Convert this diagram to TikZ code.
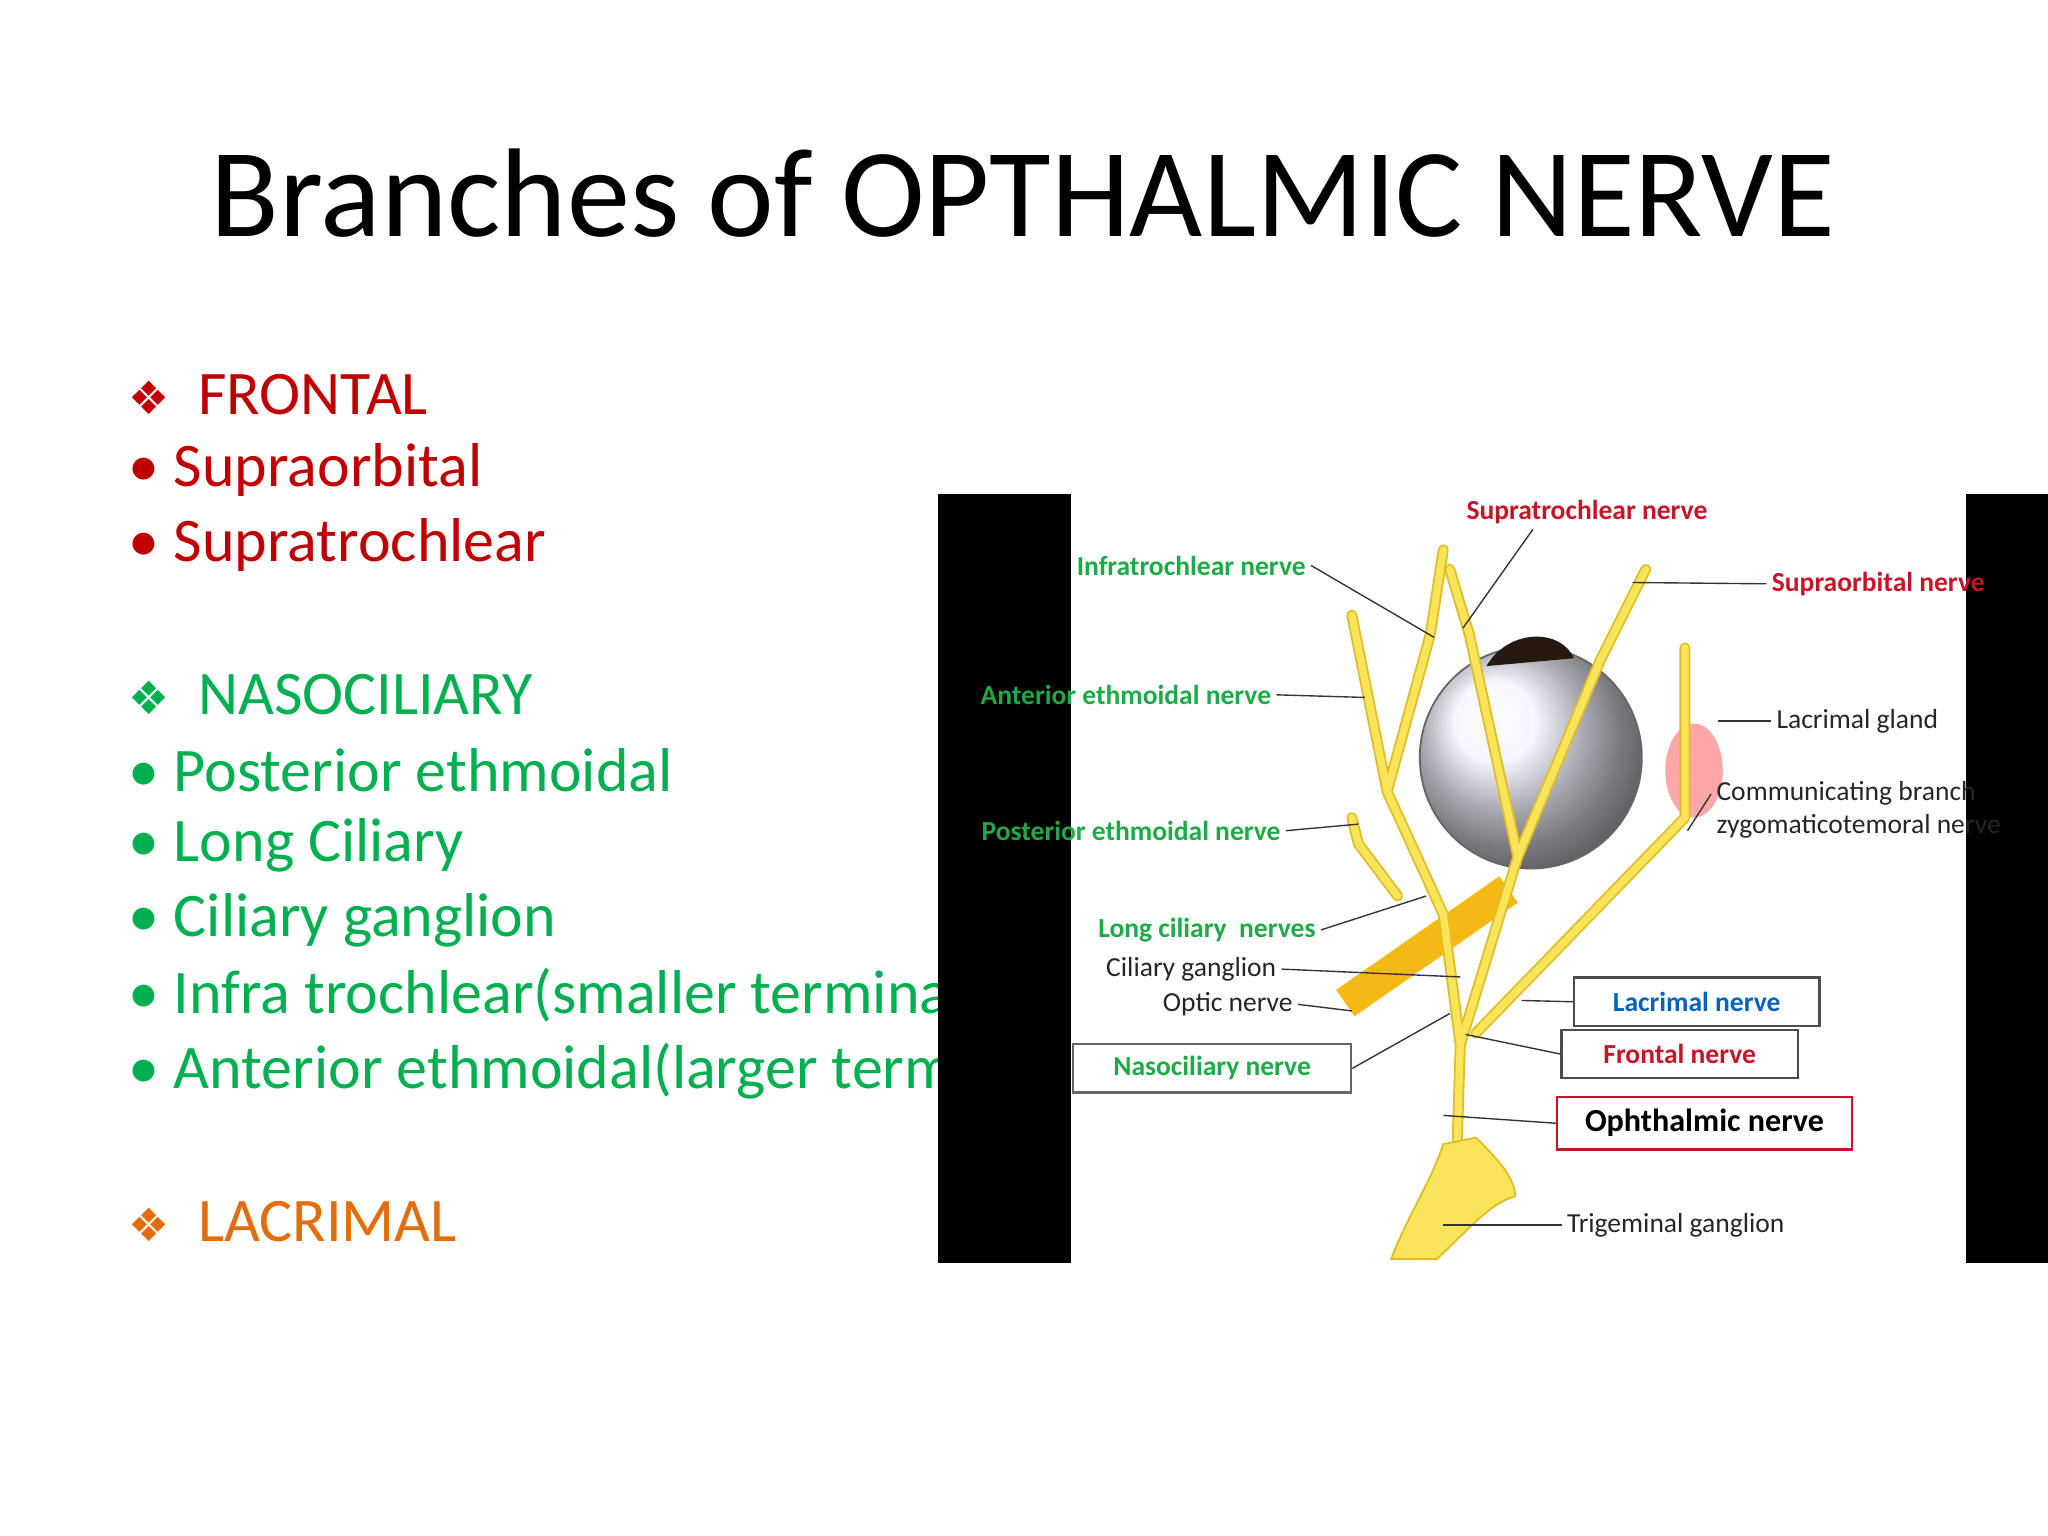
\documentclass[tikz,border=0pt]{standalone}
\usepackage{fontspec}
\setmainfont{Carlito}
\newfontfamily\symfont{DejaVu Sans}
\usetikzlibrary{positioning}
\definecolor{redtxt}{RGB}{192,0,0}
\definecolor{greentxt}{RGB}{0,176,80}
\definecolor{orangetxt}{RGB}{228,108,10}
\definecolor{nerve}{RGB}{250,228,90}
\definecolor{nerveedge}{RGB}{225,190,40}
\definecolor{optic}{RGB}{245,185,20}
\definecolor{labgreen}{RGB}{30,170,70}
\definecolor{labred}{RGB}{200,20,40}
\definecolor{labblue}{RGB}{0,100,190}
\tikzset{
  item/.style={anchor=west,font=\fontsize{13.5}{15}\selectfont,inner sep=0pt},
  lab/.style={font=\fontsize{6}{7}\selectfont\bfseries,inner sep=1pt},
  leader/.style={draw=black!80,line width=0.3pt},
  nervepath/.style={draw=nerveedge,line width=2.4pt,line cap=round,line join=round},
  nervefill/.style={draw=nerve,line width=1.6pt,line cap=round,line join=round},
  labbox/.style={lab,draw,line width=0.5pt,minimum height=0.37cm,inner xsep=3pt}
}
\begin{document}
\begin{tikzpicture}
\useasboundingbox (0,0) rectangle (15.68,11.76);
\fill[white] (0,0) rectangle (15.68,11.76);
% title
\node[font=\fontsize{27.5}{31}\selectfont] (title) at (7.83,10.28) {Branches of OPTHALMIC NERVE};
% list
\node[item,text=redtxt] (fr) at (0.98,8.74) {{\symfont\fontsize{10}{12}\selectfont ❖}\ \ FRONTAL};
\node[item,text=redtxt] (so) at (0.98,8.16) {• Supraorbital};
\node[item,text=redtxt] (st) at (0.98,7.59) {• Supratrochlear};
\node[item,text=greentxt] (na) at (0.98,6.44) {{\symfont\fontsize{10}{12}\selectfont ❖}\ \ NASOCILIARY};
\node[item,text=greentxt] (pe) at (0.98,5.86) {• Posterior ethmoidal};
\node[item,text=greentxt] (lc) at (0.98,5.29) {• Long Ciliary};
\node[item,text=greentxt] (cg) at (0.98,4.71) {• Ciliary ganglion};
\node[item,text=greentxt] (it) at (0.98,4.14) {• Infra trochlear(smaller terminal)};
\node[item,text=greentxt] (ae) at (0.98,3.56) {• Anterior ethmoidal(larger terminal)};
\node[item,text=orangetxt] (la) at (0.98,2.41) {{\symfont\fontsize{10}{12}\selectfont ❖}\ \ LACRIMAL};
% picture panel
\fill[white] (7.18,2.09) rectangle (15.68,7.98);
\fill[black] (7.18,2.09) rectangle (8.20,7.98);
\fill[black] (15.05,2.09) rectangle (15.68,7.98);
% eyeball
\shade[ball color=white!70!blue!15] (11.72,5.96) circle (0.85);
\draw[black!60,line width=0.4pt] (11.72,5.96) circle (0.85);
\fill[black!80!brown] (11.38,6.66) .. controls (11.55,6.95) and (11.95,6.95) .. (12.05,6.72) -- cycle;
% lacrimal gland
\fill[red!35] (12.97,5.86) ellipse (0.22 and 0.36);
% optic nerve
\draw[optic,line width=7pt] (10.30,4.08) -- (11.55,4.95);
% nerves
\foreach \s in {nervepath,nervefill}{
  \draw[\s] (11.15,2.80) -- (11.18,3.76) -- (11.05,4.76) -- (10.62,5.70) -- (10.40,6.80) -- (10.35,7.05);
  \draw[\s] (10.62,5.70) -- (10.95,6.90) -- (11.05,7.55);
  \draw[\s] (11.18,3.76) -- (11.62,5.20) -- (12.25,6.70) -- (12.60,7.40);
  \draw[\s] (11.62,5.20) -- (11.25,6.90) -- (11.10,7.40);
  \draw[\s] (11.30,3.85) -- (12.90,5.50) -- (12.90,6.80);
  \draw[\s] (10.70,4.90) -- (10.40,5.30) -- (10.35,5.50);
}
% trigeminal ganglion
\fill[nerve,draw=nerveedge] (10.65,2.12) .. controls (10.80,2.50) and (10.95,2.70) .. (11.05,3.00)
  -- (11.30,3.05) .. controls (11.45,2.90) and (11.60,2.75) .. (11.60,2.60)
  .. controls (11.40,2.55) and (11.20,2.30) .. (11.00,2.12) -- cycle;
% labels
\node[lab,text=labred] (stn) at (12.15,7.84) {Supratrochlear nerve};
\node[lab,text=labgreen] (itn) at (9.12,7.43) {Infratrochlear nerve};
\node[lab,text=labred] (son) at (14.38,7.29) {Supraorbital nerve};
\node[lab,text=labgreen] (aen) at (8.62,6.44) {Anterior ethmoidal nerve};
\node[lab,text=black!85,font=\fontsize{6}{7}\selectfont] (lgl) at (14.22,6.24) {Lacrimal gland};
\node[lab,text=black!85,font=\fontsize{6}{7}\selectfont,align=left,anchor=west] (cbr) at (13.10,5.56) {Communicating branch\\zygomaticotemoral nerve};
\node[lab,text=labgreen] (pen) at (8.66,5.40) {Posterior ethmoidal nerve};
\node[lab,text=labgreen] (lcn) at (9.24,4.64) {Long ciliary \ nerves};
\node[lab,text=black!85,font=\fontsize{6}{7}\selectfont] (cgl) at (9.12,4.34) {Ciliary ganglion};
\node[lab,text=black!85,font=\fontsize{6}{7}\selectfont] (opn) at (9.40,4.07) {Optic nerve};
\node[labbox,text=labblue,draw=black!70,minimum width=1.88cm] (lnb) at (12.99,4.09) {Lacrimal nerve};
\node[labbox,text=labred,draw=black!70,minimum width=1.81cm] (fnb) at (12.86,3.69) {Frontal nerve};
\node[labbox,text=labgreen,draw=black!60,minimum width=2.13cm] (ncb) at (9.28,3.58) {Nasociliary nerve};
\node[labbox,text=black,draw=labred,minimum width=2.26cm,minimum height=0.40cm,font=\fontsize{7}{8}\selectfont\bfseries] (onb) at (13.05,3.16) {Ophthalmic nerve};
\node[lab,text=black!85,font=\fontsize{6}{7}\selectfont] (tgg) at (12.83,2.38) {Trigeminal ganglion};
% leaders
\coordinate (pst) at (11.20,6.95);
\coordinate (pit) at (10.98,6.88);
\coordinate (pso) at (12.50,7.30);
\coordinate (pae) at (10.45,6.42);
\coordinate (plg) at (13.15,6.24);
\coordinate (pcb) at (12.92,5.40);
\coordinate (ppe) at (10.40,5.45);
\coordinate (plc) at (10.92,4.90);
\coordinate (pcg) at (11.18,4.28);
\coordinate (pop) at (10.35,4.02);
\coordinate (pln) at (11.65,4.10);
\coordinate (pfn) at (11.22,3.84);
\coordinate (pnc) at (11.10,4.00);
\coordinate (pon) at (11.05,3.22);
\coordinate (ptg) at (11.05,2.38);
\draw[leader] (stn.south west) ++(0.55,0) -- (pst);
\draw[leader] (itn.east) -- (pit);
\draw[leader] (son.west) -- (pso);
\draw[leader] (aen.east) -- (pae);
\draw[leader] (lgl.west) -- (plg);
\draw[leader] (cbr.west) ++(0,0.12) -- (pcb);
\draw[leader] (pen.east) -- (ppe);
\draw[leader] (lcn.east) -- (plc);
\draw[leader] (cgl.east) -- (pcg);
\draw[leader] (opn.east) -- (pop);
\draw[leader] (lnb.west) -- (pln);
\draw[leader] (fnb.west) -- (pfn);
\draw[leader] (ncb.east) -- (pnc);
\draw[leader] (onb.west) -- (pon);
\draw[leader] (tgg.west) -- (ptg);
\end{tikzpicture}
\end{document}
